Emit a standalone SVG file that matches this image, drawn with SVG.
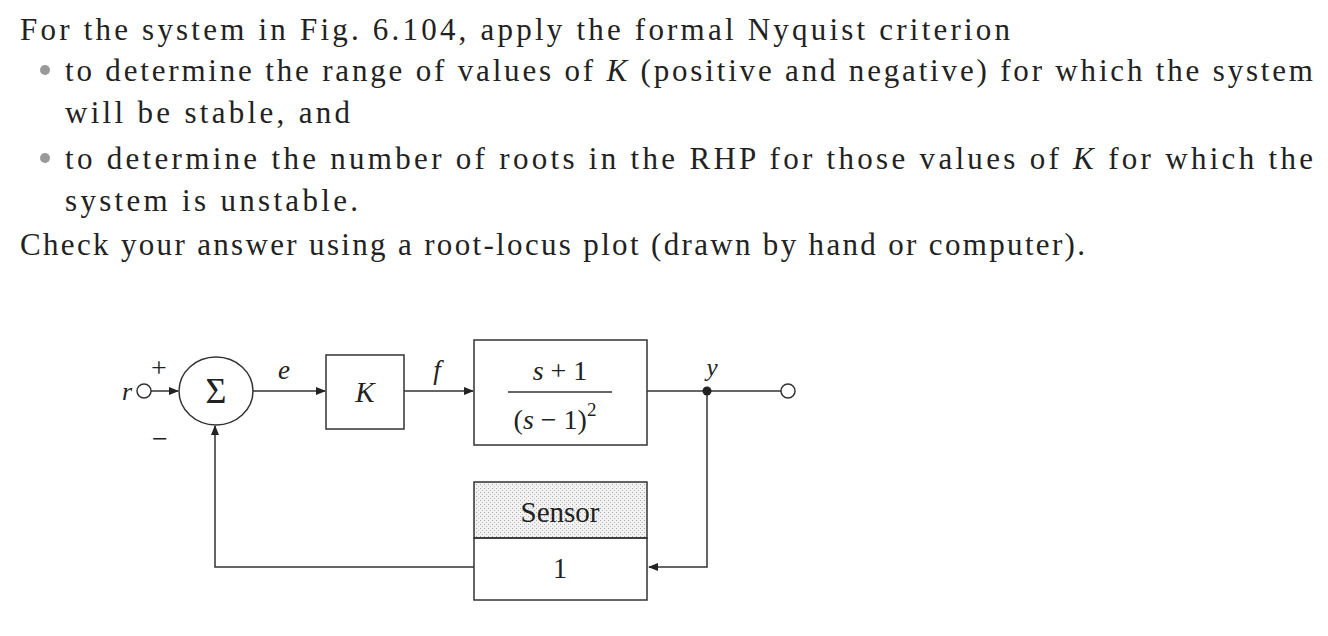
<svg xmlns="http://www.w3.org/2000/svg" width="1328" height="636" viewBox="0 0 1328 636">
<defs>
<marker id="ah" markerWidth="10" markerHeight="8" refX="9" refY="4" orient="auto" markerUnits="userSpaceOnUse"><path d="M0,0 L10,4 L0,8 z" fill="#222"/></marker>
<pattern id="dots" width="4" height="4" patternUnits="userSpaceOnUse"><rect width="4" height="4" fill="#f2f2f2"/><rect width="1" height="1" fill="#aaa"/><rect x="2" y="2" width="1" height="1" fill="#bbb"/></pattern>
</defs>
<style>
text{font-family:"Liberation Serif",serif;fill:#222}
.p{font-size:31px}
.i{font-style:italic}
.b{fill:none;stroke:#333;stroke-width:1.5}
.c{fill:none;stroke:#333;stroke-width:1.5}
</style>
<rect width="1328" height="636" fill="#fff"/>
<text class="p" x="20" y="40" textLength="990" lengthAdjust="spacing">For the system in Fig. 6.104, apply the formal Nyquist criterion</text>
<circle cx="45" cy="70" r="5" fill="#999"/>
<text class="p" x="65" y="81" textLength="1248" lengthAdjust="spacing">to determine the range of values of <tspan class="i">K</tspan> (positive and negative) for which the system</text>
<text class="p" x="65" y="123" textLength="285" lengthAdjust="spacing">will be stable, and</text>
<circle cx="45" cy="158" r="5" fill="#999"/>
<text class="p" x="65" y="169" textLength="1248" lengthAdjust="spacing">to determine the number of roots in the RHP for those values of <tspan class="i">K</tspan> for which the</text>
<text class="p" x="65" y="211" textLength="293" lengthAdjust="spacing">system is unstable.</text>
<text class="p" x="20" y="255" textLength="1065" lengthAdjust="spacing">Check your answer using a root-locus plot (drawn by hand or computer).</text>

<g id="connectors">
<line class="c" x1="151" y1="391" x2="178" y2="391" marker-end="url(#ah)"/>
<line class="c" x1="253" y1="391" x2="325" y2="391" marker-end="url(#ah)"/>
<line class="c" x1="404" y1="391" x2="473" y2="391" marker-end="url(#ah)"/>
<line class="c" x1="647" y1="391" x2="781" y2="391"/>
<polyline class="c" points="707,391 707,567 649,567" marker-end="url(#ah)"/>
<polyline class="c" points="474,567 215,567 215,426" marker-end="url(#ah)"/>
</g>
<g id="r"><text class="i" x="122" y="400" font-size="26">r</text><circle cx="144" cy="391" r="7" fill="#fff" stroke="#333" stroke-width="1.5"/></g>
<g id="sum">
<ellipse cx="216" cy="391" rx="37" ry="34" fill="#fff" stroke="#333" stroke-width="1.5"/>
<text x="216" y="403" font-size="36" text-anchor="middle">Σ</text>
<text x="159" y="377" font-size="28" text-anchor="middle" fill="#777">+</text>
<text x="160" y="448" font-size="28" text-anchor="middle" fill="#777">−</text>
</g>
<text class="i" x="284" y="379" font-size="27" text-anchor="middle">e</text>
<g id="k"><rect class="b" x="326" y="355" width="78" height="74"/><text class="i" x="365" y="402" font-size="29" text-anchor="middle">K</text></g>
<text class="i" x="437" y="379" font-size="27" text-anchor="middle">f</text>
<g id="plant"><rect class="b" x="474" y="340" width="173" height="105"/>
<text x="560" y="380" font-size="28" text-anchor="middle"><tspan class="i">s</tspan> + 1</text>
<line x1="508" y1="392" x2="612" y2="392" stroke="#333" stroke-width="1.5"/>
<text x="555" y="429" font-size="28" text-anchor="middle">(<tspan class="i">s</tspan> − 1)<tspan font-size="19" dy="-13">2</tspan></text></g>
<text class="i" x="712" y="376" font-size="25" text-anchor="middle">y</text>
<circle cx="707" cy="391" r="4.5" fill="#222"/>
<g id="out"><circle cx="788" cy="391" r="7" fill="#fff" stroke="#333" stroke-width="1.5"/></g>
<g id="sensor">
<rect x="474" y="482" width="173" height="56" fill="url(#dots)" stroke="#333" stroke-width="1.5"/>
<rect class="b" x="474" y="538" width="173" height="62"/>
<text x="560" y="522" font-size="29" text-anchor="middle">Sensor</text>
<text x="560" y="578" font-size="29" text-anchor="middle">1</text>
</g>
</svg>
